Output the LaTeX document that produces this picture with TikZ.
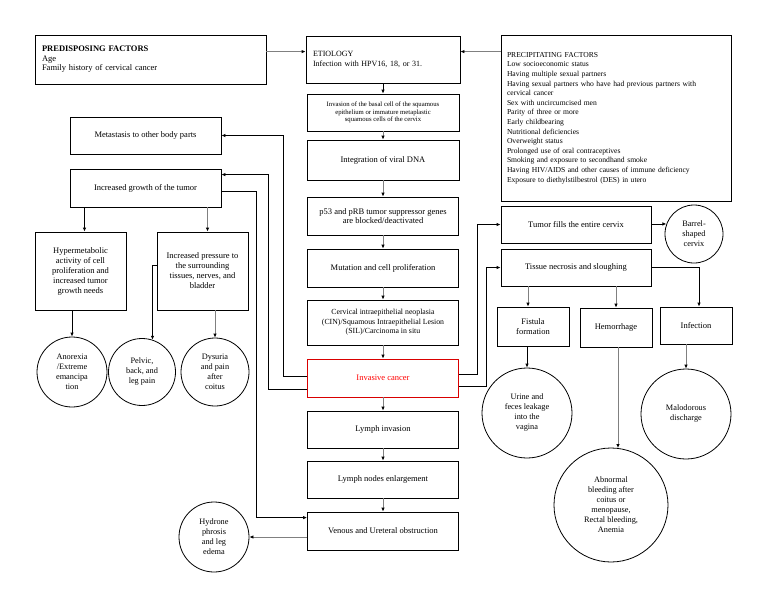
\documentclass[tikz,border=0pt]{standalone}
\usepackage{fontspec}
\setmainfont{Liberation Serif}
\usetikzlibrary{arrows.meta,calc}
\begin{document}
\begin{tikzpicture}[x=1pt,y=-1pt,
 bx/.style={draw,line width=0.8pt,align=center,inner sep=2pt,font=\fontsize{8.5}{10}\selectfont},
 cir/.style={draw,circle,line width=0.8pt,align=center,inner sep=0pt,font=\fontsize{8.3}{10}\selectfont},
 ar/.style={line width=0.8pt,-{Latex[length=4pt,width=3.5pt]}},
 gar/.style={line width=0.8pt,draw=black!50,-{Latex[length=4pt,width=3.5pt,color=black]}}]
\useasboundingbox (0,0) rectangle (768,594);
% top row
\node[bx,minimum width=231pt,minimum height=49pt,align=left,text width=217pt,font=\fontsize{8.5}{9.5}\selectfont] (pre) at (150.5,59.5)
 {{\bfseries PREDISPOSING FACTORS}\\Age\\Family history of cervical cancer};
\node[bx,minimum width=154pt,minimum height=47pt,align=left,text width=140pt,font=\fontsize{8}{9.5}\selectfont] (eti) at (383,59.5)
 {ETIOLOGY\\Infection with HPV16, 18, or 31.};
\node[bx,minimum width=230pt,minimum height=166pt,align=left,text width=218pt,font=\fontsize{7.6}{9.6}\selectfont] (prec) at (616,118)
 {PRECIPITATING FACTORS\\Low socioeconomic status\\Having multiple sexual partners\\Having sexual partners who have had previous partners with\\cervical cancer\\Sex with uncircumcised men\\Parity of three or more\\Early childbearing\\Nutritional deficiencies\\Overweight status\\Prolonged use of oral contraceptives\\Smoking and exposure to secondhand smoke\\Having HIV/AIDS and other causes of immune deficiency\\Exposure to diethylstilbestrol (DES) in utero};
% central chain
\node[bx,minimum width=152pt,minimum height=37pt,font=\fontsize{6.7}{7.2}\selectfont] (inv) at (383,112.5)
 {Invasion of the basal cell of the squamous\\epithelium or immature metaplastic\\squamous cells of the cervix};
\node[bx,minimum width=152pt,minimum height=40pt] (integ) at (383,160) {Integration of viral DNA};
\node[bx,minimum width=151pt,minimum height=38pt,font=\fontsize{8.5}{9}\selectfont] (p53) at (383,216) {p53 and pRB tumor suppressor genes\\are blocked/deactivated};
\node[bx,minimum width=151pt,minimum height=38pt] (mut) at (383,268) {Mutation and cell proliferation};
\node[bx,minimum width=151pt,minimum height=45pt,font=\fontsize{7.8}{9.5}\selectfont] (cin) at (383,322.5) {Cervical intraepithelial neoplasia\\(CIN)/Squamous Intraepithelial Lesion\\(SIL)/Carcinoma in situ};
\node[bx,minimum width=151pt,minimum height=38pt,draw=red!85!black,text=red] (invc) at (383,378) {Invasive cancer};
\node[bx,minimum width=151pt,minimum height=37pt] (lym) at (383,429.5) {Lymph invasion};
\node[bx,minimum width=151pt,minimum height=37pt] (lyn) at (383,479.5) {Lymph nodes enlargement};
\node[bx,minimum width=151pt,minimum height=38pt] (ven) at (383,531) {Venous and Ureteral obstruction};
% left side
\node[bx,minimum width=151pt,minimum height=37pt] (meta) at (145.5,135.5) {Metastasis to other body parts};
\node[bx,minimum width=151pt,minimum height=38pt] (grow) at (145.5,188) {Increased growth of the tumor};
\node[bx,minimum width=91pt,minimum height=78pt] (hyp) at (80.5,271) {Hypermetabolic\\activity of cell\\proliferation and\\increased tumor\\growth needs};
\node[bx,minimum width=91pt,minimum height=78pt] (press) at (202.5,271) {Increased pressure to\\the surrounding\\tissues, nerves, and\\bladder};
\node[cir,minimum size=70pt] (anor) at (72,372) {Anorexia\\/Extreme\\emancipa\\tion};
\node[cir,minimum size=67pt] (pel) at (142,372) {Pelvic,\\back, and\\leg pain};
\node[cir,minimum size=68pt] (dys) at (215,372) {Dysuria\\and pain\\after\\coitus};
\node[cir,minimum size=70pt] (hydro) at (214,537) {Hydrone\\phrosis\\and leg\\edema};
% right side
\node[bx,minimum width=150pt,minimum height=37pt] (tum) at (576,224.5) {Tumor fills the entire cervix};
\node[cir,minimum size=58pt] (bar) at (694,234) {Barrel-\\shaped\\cervix};
\node[bx,minimum width=150pt,minimum height=37pt] (tis) at (576,267.5) {Tissue necrosis and sloughing};
\node[bx,minimum width=72pt,minimum height=39pt] (fist) at (533,326.5) {Fistula\\formation};
\node[bx,minimum width=72pt,minimum height=39pt] (hem) at (616,327.5) {Hemorrhage};
\node[bx,minimum width=72pt,minimum height=37pt] (inf) at (696,325.5) {Infection};
\node[cir,minimum size=90pt] (uri) at (527,413) {Urine and\\feces leakage\\into the\\vagina};
\node[cir,minimum size=90pt] (mal) at (686,414) {Malodorous\\discharge};
\node[cir,minimum size=114pt] (abn) at (611,505) {Abnormal\\bleeding after\\coitus or\\menopause,\\Rectal bleeding,\\Anemia};
% connectors: top
\draw[gar] ($(pre.north east)+(0,17)$) -- ($(eti.north west)+(0,16)$);
\draw[gar] ($(prec.north west)+(0,17)$) -- ($(eti.north east)+(0,16)$);
% chain
\draw[ar] (eti) -- (inv);
\draw[gar] (inv) -- (integ);
\draw[gar] (integ) -- (p53);
\draw[gar] (p53) -- (mut);
\draw[gar] (mut) -- (cin);
\draw[gar] (cin) -- (invc);
\draw[gar] (invc) -- (lym);
\draw[gar] (lym) -- (lyn);
\draw[gar] (lyn) -- (ven);
% invasive cancer to left
\draw[ar] ($(invc.north west)+(0,18)$) -| ($(meta.east)+(62,0)$) -- (meta.east);
\draw[ar] ($(invc.north west)+(0,31)$) -| ($(grow.north east)+(47,6)$) -- ($(grow.north east)+(0,6)$);
\draw[ar] ($(grow.north east)+(0,23)$) -| ($(ven.north west)+(-51,6)$) -- ($(ven.north west)+(0,6)$);
% left tree
\coordinate (g1) at ($(hyp.north)+(4,0)$);
\coordinate (g2) at ($(press.north)+(5,0)$);
\draw[ar] (g1 |- grow.south) -- (g1);
\draw[gar] (g2 |- grow.south) -- (g2);
\draw[ar] (hyp.south -| anor.north) -- (anor.north);
\draw[ar] ($(press.north west)+(0,34)$) -| (pel.72);
\draw[gar] (dys.north |- press.south) -- (dys.north);
\draw[gar] (ven.west |- hydro.east) -- (hydro.east);
% invasive cancer to right
\draw[ar] ($(invc.north east)+(0,16)$) -| ($(tum.west)+(-23,0)$) -- (tum.west);
\draw[ar] ($(invc.north east)+(0,28)$) -| ($(tis.west)+(-14,0)$) -- (tis.west);
\draw[ar] (tum.east |- bar.160) -- (bar.160);
\coordinate (f1) at ($(fist.north)+(-5,0)$);
\draw[gar] (f1 |- tis.south) -- (f1);
\draw[gar] (hem.north |- tis.south) -- (hem.north);
\draw[ar] ($(tis.north east)+(0,19)$) -| ($(inf.north)+(3,0)$);
\draw[ar] (uri.north |- fist.south) -- (uri.north);
\draw[gar] (hem.south -| abn.83) -- (abn.83);
\draw[gar] (mal.north |- inf.south) -- (mal.north);
\end{tikzpicture}
\end{document}
